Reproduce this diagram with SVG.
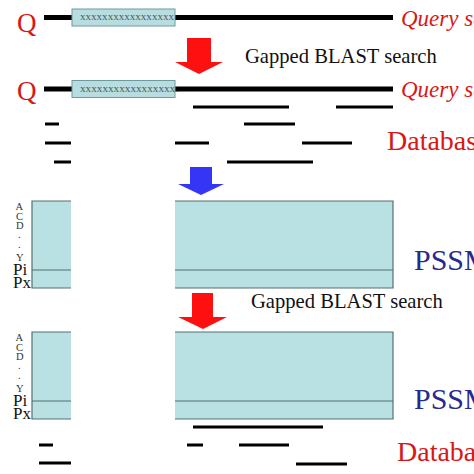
<svg xmlns="http://www.w3.org/2000/svg" width="474" height="474" viewBox="0 0 474 474">
<style>
.serif{font-family:"Liberation Serif","Times New Roman",serif}
.q{fill:#d81818;font-size:27px}
.qs{fill:#d81818;font-size:23px;font-style:italic}
.db{fill:#d81818;font-size:28px}
.pssm{fill:#2a2a88;font-size:30px}
.lbl{fill:#111;font-size:20.6px}
.qline{stroke:#000;stroke-width:5}
.hit{stroke:#000;stroke-width:3}
.seg{fill:#b8dde0;stroke:#6f9a9c;stroke-width:1}
.xs{fill:#4a5a5a;font-size:10px}
.mat{fill:#b9e0e3}
.edge{fill:none;stroke:#55706f;stroke-width:1.2}
.aa{fill:#333;font-size:10.5px}
.pp{fill:#111;font-size:17px}
</style>
<g id="query1">
<text class="serif q" x="17" y="32">Q</text>
<line class="qline" x1="44" y1="17.5" x2="393" y2="17.5"/>
<rect class="seg" x="72" y="9" width="103" height="17"/>
<text class="serif xs" x="80" y="20" textLength="94" lengthAdjust="spacingAndGlyphs">xxxxxxxxxxxxxxxxx</text>
<text class="serif qs" x="401" y="26">Query sequence</text>
</g>
<g id="arrow1">
<polygon points="187,38 211,38 211,62 223,62 199,74 175,62 187,62" fill="#ff1010"/>
</g>
<g id="label1"><text class="serif lbl" x="245" y="63">Gapped BLAST search</text></g>
<g id="query2">
<text class="serif q" x="17" y="100">Q</text>
<line class="qline" x1="44" y1="89" x2="393" y2="89"/>
<rect class="seg" x="72" y="80.5" width="103" height="17"/>
<text class="serif xs" x="80" y="91.5" textLength="98" lengthAdjust="spacingAndGlyphs">xxxxxxxxxxxxxxxxx.</text>
<text class="serif qs" x="401" y="97">Query sequence</text>
</g>
<g id="database1">
<line class="hit" x1="193" y1="107" x2="289" y2="107"/>
<line class="hit" x1="336" y1="107" x2="393" y2="107"/>
<line class="hit" x1="45" y1="124" x2="59" y2="124"/>
<line class="hit" x1="244" y1="124" x2="295" y2="124"/>
<line class="hit" x1="45" y1="143" x2="71" y2="143"/>
<line class="hit" x1="175" y1="143" x2="209" y2="143"/>
<line class="hit" x1="302" y1="143" x2="352" y2="143"/>
<line class="hit" x1="54" y1="162" x2="71" y2="162"/>
<line class="hit" x1="227" y1="162" x2="313" y2="162"/>
<text class="serif db" x="387" y="150">Database</text>
</g>
<g id="arrow2">
<polygon points="190,167 212,167 212,184 224,184 201,195 178,184 190,184" fill="#3535f5"/>
</g>
<g id="pssm1">
<rect class="mat" x="32" y="201" width="39" height="87"/>
<rect class="mat" x="175" y="201" width="218" height="87"/>
<path class="edge" d="M71,201 H32 V288 H71 M32,270 H71"/>
<path class="edge" d="M175,201 H393 V288 H175 M175,270 H393"/>
<text class="serif aa" x="15.5" y="210">A</text>
<text class="serif aa" x="16" y="220">C</text>
<text class="serif aa" x="16" y="229">D</text>
<text class="serif aa" x="18" y="238">.</text>
<text class="serif aa" x="18" y="248">.</text>
<text class="serif aa" x="16" y="261">Y</text>
<text class="serif pp" x="13" y="275">Pi</text>
<text class="serif pp" x="13" y="288">Px</text>
<text class="serif pssm" x="414" y="270">PSSM</text>
</g>
<g id="arrow3">
<polygon points="192,293 213,293 213,317 227,317 203,329 178,317 192,317" fill="#ff1010"/>
</g>
<g id="label2"><text class="serif lbl" x="251" y="308">Gapped BLAST search</text></g>
<g id="pssm2">
<rect class="mat" x="32" y="332" width="39" height="87"/>
<rect class="mat" x="175" y="332" width="218" height="87"/>
<path class="edge" d="M71,332 H32 V419 H71 M32,401 H71"/>
<path class="edge" d="M175,332 H393 V419 H175 M175,401 H393"/>
<text class="serif aa" x="15.5" y="341">A</text>
<text class="serif aa" x="16" y="351">C</text>
<text class="serif aa" x="16" y="360">D</text>
<text class="serif aa" x="18" y="369">.</text>
<text class="serif aa" x="18" y="379">.</text>
<text class="serif aa" x="16" y="392">Y</text>
<text class="serif pp" x="13" y="406">Pi</text>
<text class="serif pp" x="13" y="419">Px</text>
<text class="serif pssm" x="414" y="409">PSSM</text>
</g>
<g id="database2">
<line class="hit" x1="193" y1="427" x2="323" y2="427"/>
<line class="hit" x1="39" y1="445" x2="53" y2="445"/>
<line class="hit" x1="187" y1="445" x2="203" y2="445"/>
<line class="hit" x1="239" y1="445" x2="289" y2="445"/>
<line class="hit" x1="39" y1="463" x2="71" y2="463"/>
<line class="hit" x1="296" y1="464" x2="347" y2="464"/>
<text class="serif db" x="397" y="461">Database</text>
</g>
</svg>
